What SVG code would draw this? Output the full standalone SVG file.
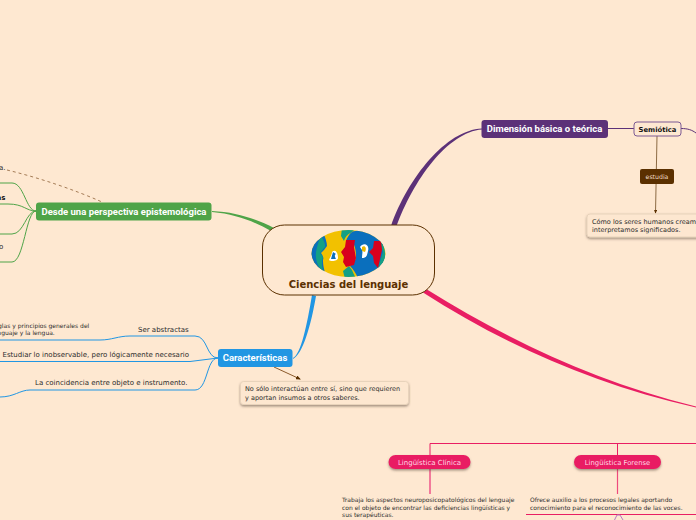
<svg xmlns="http://www.w3.org/2000/svg" width="696" height="520" viewBox="0 0 696 520">
<style>
text{font-family:"DejaVu Sans","Liberation Sans",sans-serif}
.h{font-size:9.5px;font-weight:700;fill:#fff;text-anchor:middle;font-family:"Roboto","DejaVu Sans",sans-serif}
.t{font-size:6.500px;fill:#2c2c2c}
.s{font-size:6px;fill:#2c2c2c}
.l{font-size:7px;fill:#2c2c2c}
.g{fill:none;stroke:#4fa448;stroke-width:1}
.b{fill:none;stroke:#2196e3;stroke-width:1}
.p{fill:none;stroke:#5c3178;stroke-width:1}
.r{fill:none;stroke:#e91e63;stroke-width:1}
.w{fill:none;stroke:#8b5a2b;stroke-width:1}
.note{fill:#fde7d0;stroke:#e8d3bb;stroke-width:1;filter:url(#sh)}
</style>
<defs>
<filter id="sh" x="-10%" y="-20%" width="120%" height="150%"><feDropShadow dx="0" dy="1.5" stdDeviation="1" flood-color="#5a4a3a" flood-opacity=".55"/></filter>
<marker id="ah" markerWidth="5" markerHeight="4" refX="4" refY="2" orient="auto"><path d="M0 0L5 2L0 4Z" fill="#5b3000"/></marker>
<clipPath id="lg"><ellipse cx="348.500" cy="253.500" rx="37" ry="23.500"/></clipPath>
</defs>
<rect width="696" height="520" fill="#fee8d1"/>
<g id="connectors">
<path d="M212 211C236 212 256 219 274 228L271 231C255 222 236 214 212 212Z" fill="#4fa448"/>
<path d="M391 226C408 178 446 130 482 128.500L482 129.500C448 132 413 180 396 228Z" fill="#5c3178"/>
<path d="M293 358C301 354 307 325 312 295L316 296C311 325 303 354 293 359Z" fill="#2196e3"/>
<path d="M423 292.500C500 342 590 384 696 407.500L696 406.500C592 381 505 338 427 289.500Z" fill="#e91e63"/>
<path class="g" d="M36 211C26 211 24 183 12 183L0 183" stroke-width="1.200"/>
<path class="g" d="M36 211C26 211 24 204 8 204L0 204"/>
<path class="g" d="M36 211C26 211 24 234 12 234L0 234"/>
<path class="g" d="M36 211C26 211 24 262 12 262L0 262"/>
<path d="M7 170C40 178 75 190 102 202" fill="none" stroke="#9a6f48" stroke-width=".9" stroke-dasharray="3 3"/>
<path class="b" d="M218 358C206 358 208 336 195 336L130 336C118 336 112 340 100 340L0 340"/>
<path class="b" d="M218 358L190 361.500L0 361.500"/>
<path class="b" d="M218 358C206 358 208 390 195 390L30 390C20 390 14 397 0 397"/>
<path class="w" d="M274 367L300 379" marker-end="url(#ah)"/>
<path class="p" d="M608 128.500L634 128.500"/>
<path class="p" d="M681 128.500C688 128.500 692 130 696 133"/>
<path d="M657 136L655.500 213" fill="none" stroke="#6e4a20" stroke-width=".8" marker-end="url(#ah)"/>
<path class="r" d="M430 474V443.500H696"/>
<path class="r" d="M617.500 443.500V455"/>
<path d="M430 468V494" stroke="#f27a9b" stroke-width="2" fill="none"/>
<path d="M617.500 468V494" stroke="#ee4a7d" stroke-width="1.200" fill="none"/>
<path class="r" d="M526 514.500H696"/>
<path d="M614.500 520L617 515L620 515L623 520" fill="none" stroke="#b77ac0" stroke-width="1"/>
</g>
<g id="root">
<rect x="262.500" y="225" width="172" height="70" rx="22" fill="#fee8d1" stroke="#5b3000" stroke-width="1"/>
<g clip-path="url(#lg)">
<rect x="311" y="230" width="76" height="48" fill="#f2c100"/>
<path d="M311 228H321C325 236 327 242 327 246C325 249 323 251 321 253C323 256 324 258 323 260C323 265 324 272 328 279H311Z" fill="#0a6fbd"/>
<path d="M321 236C324 241 326 245 325 247L320 253L323 257C321 263 322 268 324 272C318 268 315 260 316 252C317 246 319 240 321 236Z" fill="#14a085"/>
<path d="M342 228H356L352 232C346 235 345 238 344 241L341 236Z" fill="#14a085"/>
<path d="M345 279L356 279L352 270L349 266L343 271Z" fill="#14a085"/>
<path d="M352 232C358 229 376 230 383 240L386 278H358C356 274 354 270 350 266C354 263 356 260 356 256C356 247 353 238 346 241C347 238 349 234 352 232Z" fill="#0a6fbd"/>
<path d="M379 240C386 246 388 258 380 272L378 268L383 252Z" fill="#14a085"/>
<path d="M346 240H355L354 247L356 258L354 265L346 267L343 262L344 257L341 252L345 247Z" fill="#d8001d"/>
<path d="M374 241H381L382 250L378 268L374 263L373 256L369 252L373 248Z" fill="#d8001d"/>
<path d="M360 247C363 242 370 244 368 251C367 255 367 258 362 258C362 254 363 252 362 250Z" fill="#fff"/>
<path d="M362 247C365 245 367 248 365 252L362 251Z" fill="#e8b800"/>
<path d="M332 252C335 249 338 252 338 258C338 261 331 262 329 260C330 257 332 255 332 252Z" fill="#fff"/>
<path d="M333 252L331 259L336 259C335 257 334 255 336 254Z" fill="#0a6fbd"/>
</g>
<text x="348.500" y="288" text-anchor="middle" style="font-size:10px;font-weight:700;fill:#5b3000">Ciencias del lenguaje</text>
</g>
<g id="n-epistemologica">
<rect x="36" y="202.500" width="175.500" height="18" rx="3" fill="#4fa448"/>
<text class="h" x="124" y="214.700">Desde una perspectiva epistemológica</text>
</g>
<g id="n-caracteristicas">
<rect x="218" y="349" width="74.500" height="18" rx="3" fill="#2196e3"/>
<text class="h" x="255" y="361.300">Características</text>
</g>
<g id="n-dimension">
<rect x="481.500" y="120" width="126.500" height="18" rx="3" fill="#5c3178"/>
<text class="h" x="544.500" y="132">Dimensión básica o teórica</text>
</g>
<g id="n-semiotica">
<rect x="634" y="122" width="47" height="14" rx="3" fill="#fee8d1" stroke="#7c5a94" stroke-width="1"/>
<text x="657.500" y="132" text-anchor="middle" style="font-size:6.800px;font-weight:700;fill:#111">Semiótica</text>
</g>
<g id="n-estudia">
<rect x="640" y="169" width="34" height="15" rx="2" fill="#5b3000"/>
<text x="657" y="179" text-anchor="middle" style="font-size:6.200px;fill:#f0dcc8">estudia</text>
</g>
<g id="n-como">
<rect class="note" x="587" y="214" width="135" height="23" rx="3"/>
<text class="t" x="592" y="224">Cómo los seres humanos creamos e</text>
<text class="t" x="592" y="232">interpretamos significados.</text>
</g>
<g id="n-nosolo">
<rect class="note" x="240.500" y="381.500" width="168" height="23" rx="3"/>
<text class="t" x="245" y="391">No sólo interactúan entre sí, sino que requieren</text>
<text class="t" x="245" y="399.500">y aportan insumos a otros saberes.</text>
</g>
<g id="n-left">
<text x="-1" y="170" style="font-size:7px;fill:#2c2c2c">a.</text>
<text x="-3.500" y="200" style="font-size:7px;font-weight:700;fill:#111">as</text>
<text x="-1" y="249" style="font-size:7px;fill:#2c2c2c">o</text>
<text class="s" x="-8" y="328">reglas y principios generales del</text>
<text class="s" x="-8" y="335">lenguaje y la lengua.</text>
<text class="l" x="138" y="332">Ser abstractas</text>
<text class="l" x="2.500" y="357">Estudiar lo inobservable, pero lógicamente necesario</text>
<text class="l" x="35" y="385">La coincidencia entre objeto e instrumento.</text>
</g>
<g id="n-clinica">
<rect x="388.500" y="455" width="82" height="14" rx="7" fill="#e91e63" filter="url(#sh)"/>
<text x="429.500" y="464.700" text-anchor="middle" style="font-size:7px;fill:#ffd9e4">Lingüística Clínica</text>
</g>
<g id="n-forense">
<rect x="574" y="455" width="87" height="14" rx="7" fill="#e91e63" filter="url(#sh)"/>
<text x="617.500" y="464.700" text-anchor="middle" style="font-size:6.800px;fill:#ffd9e4">Lingüística Forense</text>
</g>
<g id="n-trabaja">
<text class="s" x="342" y="502">Trabaja los aspectos neuroposicopatológicos del lenguaje</text>
<text class="s" x="342" y="510">con el objeto de encontrar las deficiencias lingüísticas y</text>
<text class="s" x="342" y="517">sus terapéuticas.</text>
</g>
<g id="n-ofrece">
<text class="s" x="530" y="502">Ofrece auxilio a los procesos legales aportando</text>
<text class="s" x="530" y="510">conocimiento para el reconocimiento de las voces.</text>
</g>
</svg>
